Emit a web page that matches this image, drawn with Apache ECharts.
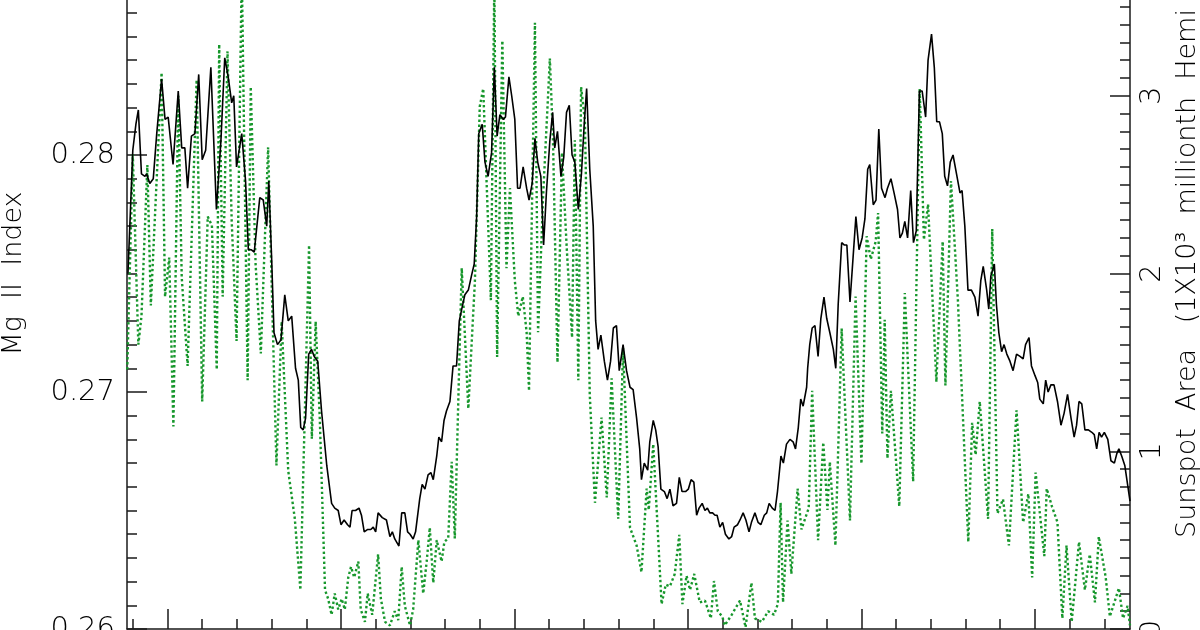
<!DOCTYPE html>
<html>
<head>
<meta charset="utf-8">
<title>Mg II Index and Sunspot Area</title>
<script src="https://cdn.jsdelivr.net/npm/echarts@6/dist/echarts.min.js"></script>
<style>
  html, body { margin: 0; padding: 0; background: #fff; }
  #chart { width: 1200px; height: 630px; }
</style>
</head>
<body>
<div id="chart"></div>
<script>
// Mg II core-to-wing index (left axis)
var mgYears = [
  1978.86,1979.00,1979.09,1979.16,1979.25,1979.35,1979.40,1979.49,1979.59,1979.69,
  1979.83,1979.93,1980.02,1980.16,1980.31,1980.41,1980.50,1980.58,1980.69,1980.79,
  1980.90,1981.00,1981.10,1981.25,1981.41,1981.54,1981.65,1981.75,1981.85,1981.91,
  1981.99,1982.14,1982.25,1982.33,1982.42,1982.50,1982.66,1982.76,1982.86,1982.92,
  1983.00,1983.07,1983.17,1983.27,1983.38,1983.48,1983.58,1983.69,1983.77,1983.84,
  1983.91,1983.98,1984.07,1984.15,1984.23,1984.33,1984.44,1984.59,1984.73,1984.82,
  1984.92,1985.00,1985.09,1985.19,1985.26,1985.32,1985.42,1985.52,1985.59,1985.67,
  1985.77,1985.86,1985.93,1986.00,1986.07,1986.19,1986.31,1986.41,1986.48,1986.55,
  1986.67,1986.75,1986.84,1986.92,1986.99,1987.08,1987.15,1987.27,1987.34,1987.42,
  1987.51,1987.59,1987.66,1987.76,1987.82,1987.90,1987.97,1988.04,1988.14,1988.23,
  1988.33,1988.41,1988.48,1988.57,1988.67,1988.76,1988.84,1988.91,1988.97,1989.07,
  1989.15,1989.24,1989.34,1989.42,1989.50,1989.58,1989.68,1989.74,1989.84,1989.92,
  1990.01,1990.09,1990.16,1990.25,1990.35,1990.42,1990.51,1990.59,1990.67,1990.76,
  1990.84,1990.92,1991.02,1991.10,1991.16,1991.24,1991.34,1991.42,1991.50,1991.58,
  1991.66,1991.74,1991.84,1991.93,1992.01,1992.08,1992.17,1992.27,1992.34,1992.41,
  1992.49,1992.59,1992.68,1992.77,1992.85,1992.94,1993.02,1993.13,1993.23,1993.33,
  1993.42,1993.52,1993.61,1993.66,1993.74,1993.84,1993.90,1994.00,1994.07,1994.14,
  1994.22,1994.32,1994.40,1994.48,1994.57,1994.67,1994.75,1994.83,1994.93,1995.01,
  1995.09,1995.17,1995.25,1995.32,1995.41,1995.49,1995.56,1995.63,1995.71,1995.78,
  1995.84,1995.92,1996.00,1996.08,1996.18,1996.26,1996.33,1996.43,1996.50,1996.59,
  1996.67,1996.76,1996.83,1996.93,1997.02,1997.10,1997.20,1997.27,1997.34,1997.43,
  1997.51,1997.58,1997.68,1997.75,1997.84,1997.94,1998.03,1998.10,1998.18,1998.25,
  1998.32,1998.42,1998.45,1998.51,1998.58,1998.66,1998.75,1998.83,1998.92,1999.00,
  1999.09,1999.19,1999.26,1999.33,1999.43,1999.51,1999.58,1999.67,1999.76,1999.84,
  1999.93,2000.02,2000.10,2000.18,2000.24,2000.34,2000.42,2000.50,2000.58,2000.68,
  2000.75,2000.85,2000.94,2001.04,2001.11,2001.18,2001.25,2001.33,2001.42,2001.50,
  2001.58,2001.67,2001.75,2001.85,2001.92,2002.02,2002.10,2002.17,2002.25,2002.33,
  2002.40,2002.48,2002.56,2002.64,2002.74,2002.84,2002.90,2002.98,2003.07,2003.17,
  2003.27,2003.36,2003.44,2003.51,2003.61,2003.67,2003.73,2003.83,2003.89,2003.96,
  2004.04,2004.11,2004.19,2004.28,2004.37,2004.47,2004.57,2004.66,2004.73,2004.83,
  2004.90,2005.00,2005.08,2005.14,2005.24,2005.31,2005.38,2005.46,2005.55,2005.65,
  2005.75,2005.84,2005.94,2006.04,2006.13,2006.20,2006.27,2006.35,2006.44,2006.54,
  2006.64,2006.71,2006.78,2006.85,2006.92,2007.00,2007.10,2007.19,2007.29,2007.36,
  2007.42,2007.50,2007.59,2007.67,2007.74
]
var mgIndex = [
  0.2750,0.2802,0.2813,0.2819,0.2792,0.2791,0.2792,0.2788,0.2790,0.2809,
  0.2832,0.2815,0.2816,0.2796,0.2827,0.2803,0.2803,0.2786,0.2808,0.2809,
  0.2834,0.2798,0.2802,0.2837,0.2777,0.2806,0.2841,0.2833,0.2822,0.2825,
  0.2795,0.2809,0.2789,0.2760,0.2760,0.2759,0.2782,0.2781,0.2770,0.2789,
  0.2757,0.2725,0.2720,0.2722,0.2741,0.2730,0.2732,0.2710,0.2705,0.2685,
  0.2684,0.2689,0.2716,0.2718,0.2715,0.2713,0.2692,0.2669,0.2653,0.2651,
  0.2650,0.2644,0.2646,0.2644,0.2643,0.2650,0.2650,0.2651,0.2648,0.2641,
  0.2642,0.2642,0.2643,0.2641,0.2649,0.2647,0.2646,0.2639,0.2641,0.2638,
  0.2635,0.2649,0.2649,0.2641,0.2640,0.2638,0.2641,0.2655,0.2661,0.2659,
  0.2665,0.2666,0.2663,0.2673,0.2681,0.2679,0.2688,0.2692,0.2696,0.2711,
  0.2711,0.2730,0.2735,0.2741,0.2743,0.2749,0.2754,0.2774,0.2809,0.2813,
  0.2797,0.2791,0.2801,0.2837,0.2808,0.2817,0.2815,0.2816,0.2833,0.2825,
  0.2815,0.2786,0.2786,0.2795,0.2786,0.2781,0.2788,0.2807,0.2797,0.2791,
  0.2762,0.2784,0.2806,0.2818,0.2803,0.2810,0.2791,0.2799,0.2818,0.2821,
  0.2800,0.2797,0.2777,0.2792,0.2813,0.2828,0.2794,0.2770,0.2730,0.2718,
  0.2724,0.2713,0.2705,0.2713,0.2727,0.2728,0.2709,0.2720,0.2709,0.2702,
  0.2701,0.2689,0.2676,0.2663,0.2670,0.2667,0.2679,0.2688,0.2684,0.2677,
  0.2659,0.2658,0.2655,0.2659,0.2652,0.2653,0.2664,0.2658,0.2658,0.2659,
  0.2663,0.2662,0.2648,0.2651,0.2653,0.2650,0.2651,0.2649,0.2649,0.2648,
  0.2648,0.2643,0.2645,0.2640,0.2638,0.2639,0.2643,0.2644,0.2646,0.2649,
  0.2646,0.2641,0.2645,0.2649,0.2645,0.2644,0.2648,0.2649,0.2653,0.2651,
  0.2650,0.2658,0.2673,0.2670,0.2678,0.2680,0.2679,0.2676,0.2685,0.2697,
  0.2694,0.2702,0.2710,0.2720,0.2727,0.2728,0.2715,0.2731,0.2740,0.2731,
  0.2725,0.2718,0.2710,0.2737,0.2763,0.2762,0.2762,0.2738,0.2757,0.2774,
  0.2760,0.2765,0.2773,0.2794,0.2796,0.2779,0.2781,0.2811,0.2786,0.2782,
  0.2786,0.2790,0.2784,0.2777,0.2765,0.2767,0.2772,0.2765,0.2785,0.2763,
  0.2768,0.2827,0.2827,0.2816,0.2840,0.2851,0.2837,0.2814,0.2814,0.2809,
  0.2791,0.2787,0.2797,0.2800,0.2792,0.2784,0.2785,0.2770,0.2743,0.2743,
  0.2740,0.2732,0.2747,0.2753,0.2743,0.2735,0.2749,0.2754,0.2737,0.2725,
  0.2717,0.2720,0.2716,0.2713,0.2709,0.2716,0.2715,0.2714,0.2720,0.2723,
  0.2711,0.2707,0.2704,0.2697,0.2695,0.2705,0.2700,0.2703,0.2703,0.2696,
  0.2686,0.2691,0.2699,0.2689,0.2681,0.2686,0.2696,0.2695,0.2684,0.2684,
  0.2683,0.2682,0.2676,0.2683,0.2681,0.2683,0.2680,0.2671,0.2670,0.2674,
  0.2676,0.2673,0.2669,0.2661,0.2654
]

// sunspot area, 10^3 millionths of a hemisphere (right axis)
var ssYears = [
  1978.84,1979.00,1979.16,1979.25,1979.42,1979.52,1979.83,1979.93,1980.05,1980.17,
  1980.31,1980.41,1980.58,1980.84,1981.00,1981.16,1981.28,1981.42,1981.49,1981.59,
  1981.73,1981.85,1981.99,1982.14,1982.31,1982.40,1982.54,1982.69,1982.90,1983.14,
  1983.29,1983.48,1983.67,
  1983.83,1984.08,1984.16,1984.27,1984.39,1984.54,1984.63,1984.73,1984.82,1984.92,
  1985.02,1985.11,1985.21,1985.29,1985.38,1985.50,1985.57,1985.69,1985.77,1985.90,
  1986.07,1986.15,1986.27,1986.41,1986.55,1986.65,1986.75,1986.84,1986.99,1987.08,
  1987.23,1987.37,1987.47,1987.56,1987.66,1987.76,1987.90,1987.98,1988.09,1988.19,
  1988.28,1988.38,1988.48,
  1988.67,1988.86,1989.00,1989.10,1989.32,1989.42,1989.50,1989.65,1989.77,1989.87,
  1990.01,1990.11,1990.24,1990.35,1990.42,1990.59,1990.68,1990.82,1991.02,1991.11,
  1991.24,1991.37,1991.51,1991.66,1991.74,1991.84,1991.92,1992.03,1992.17,1992.32,
  1992.51,1992.66,1992.80,1992.99,1993.13,1993.33,1993.52,
  1993.66,1993.81,1993.87,1994.00,1994.24,1994.36,1994.48,1994.62,1994.75,1994.84,
  1994.96,1995.06,1995.18,1995.34,1995.49,1995.66,1995.75,1995.86,1995.99,1996.06,
  1996.26,1996.50,1996.66,1996.83,1996.93,1997.13,1997.31,1997.48,1997.59,1997.67,
  1997.74,1997.87,1997.98,1998.16,1998.27,
  1998.48,1998.58,1998.75,1998.90,1999.02,1999.09,1999.25,1999.43,1999.67,1999.83,
  2000.00,2000.15,2000.27,2000.41,2000.48,2000.60,2000.67,2000.75,2000.85,2001.09,
  2001.25,2001.49,2001.68,2001.80,2001.92,2002.16,2002.34,2002.42,2002.58,2002.78,
  2003.08,2003.19,
  2003.29,2003.41,2003.65,2003.77,2003.92,2004.08,2004.25,2004.47,2004.66,2004.81,
  2004.92,2005.02,2005.27,2005.34,2005.49,2005.65,2005.79,2005.91,2006.06,2006.27,
  2006.44,2006.58,2006.73,2006.84,2007.04,2007.16,2007.42,2007.54,2007.67,2007.74
]
var ssArea = [
  1.46,2.67,1.60,1.76,2.61,1.82,3.13,1.87,2.09,1.14,
  3.00,1.98,1.48,3.09,1.28,2.32,2.27,1.46,3.29,1.87,
  3.25,2.30,1.62,3.70,1.40,3.05,2.05,1.55,2.71,0.92,
  1.73,0.89,0.62,
  0.22,2.16,1.07,1.73,1.18,0.22,0.17,0.08,0.20,0.11,
  0.17,0.11,0.29,0.35,0.29,0.38,0.11,0.04,0.20,0.08,
  0.42,0.17,0.04,0.02,0.10,0.05,0.35,0.13,0.02,0.11,
  0.50,0.20,0.38,0.57,0.26,0.50,0.38,0.49,0.51,0.94,
  0.51,1.28,2.03,
  1.24,1.96,2.94,3.04,1.85,3.65,1.53,3.31,2.03,2.48,
  1.96,1.76,1.87,1.67,1.34,3.41,1.67,2.41,3.21,2.75,
  1.50,2.68,2.13,1.64,2.75,1.40,3.05,2.86,1.32,0.71,
  1.19,0.74,1.41,0.62,1.58,0.57,0.47,
  0.32,0.79,0.67,1.04,0.14,0.25,0.24,0.31,0.53,0.14,
  0.30,0.22,0.31,0.15,0.16,0.06,0.27,0.10,0.07,0.02,
  0.08,0.16,0.01,0.26,0.06,0.04,0.10,0.08,0.14,0.71,
  0.15,0.61,0.31,0.79,0.56,
  0.68,1.34,0.50,1.05,0.67,0.94,0.47,1.69,0.61,1.87,
  0.93,2.21,2.08,2.18,2.34,1.10,1.74,0.96,1.34,0.69,
  1.89,0.83,3.04,2.19,2.39,1.39,2.18,1.37,2.52,1.85,
  0.49,1.16,
  0.98,1.28,0.62,2.25,0.65,0.73,0.47,1.23,0.60,0.76,
  0.29,0.88,0.41,0.79,0.69,0.60,0.06,0.47,0.04,0.49,
  0.22,0.42,0.15,0.52,0.29,0.07,0.23,0.06,0.13,0.02
]

// x axis ticks: every year, long ones every 5 years
var yearTicks = []
for (var y = 1979; y <= 2007; y++) yearTicks.push(y)
var majorYearTicks = [1980, 1985, 1990, 1995, 2000, 2005]

var xMin = 1978.833
var xMax = 2007.74

var fontFamily = 'DejaVu Sans'
var axisColor = '#1a1a1a'
var textColor = '#000000'

function pairs(xs, ys) {
  return xs.map(function (x, i) { return [x, ys[i]] })
}

var chart = echarts.init(document.getElementById('chart'), null, { renderer: 'canvas' })

var option = {
  animation: false,
  backgroundColor: '#ffffff',
  // top of the plot box sits above the picture, so 0.29 / 4 are cut off
  grid: {
    left: 127,
    right: 70,
    top: -82,
    bottom: 1,
    containLabel: false,
    outerBoundsMode: 'none'
  },
  xAxis: [
    {
      type: 'value',
      min: xMin,
      max: xMax,
      position: 'bottom',
      axisLine: { show: true, lineStyle: { color: axisColor, width: 1.5 } },
      axisTick: {
        show: true,
        inside: true,
        length: 20,
        customValues: majorYearTicks,
        lineStyle: { color: axisColor, width: 1.5 }
      },
      axisLabel: { show: false },
      splitLine: { show: false }
    },
    {
      type: 'value',
      min: xMin,
      max: xMax,
      position: 'bottom',
      offset: 0,
      axisLine: { show: false },
      axisTick: {
        show: true,
        inside: true,
        length: 10,
        customValues: yearTicks,
        lineStyle: { color: axisColor, width: 1.5 }
      },
      axisLabel: { show: false },
      splitLine: { show: false }
    }
  ],
  yAxis: [
    {
      type: 'value',
      position: 'left',
      min: 0.26,
      max: 0.29,
      interval: 0.01,
      name: 'Mg  II  Index',
      nameLocation: 'middle',
      nameGap: 100,
      nameTextStyle: { fontFamily: fontFamily, fontSize: 27, fontWeight: 200, color: textColor },
      axisLine: { show: true, lineStyle: { color: axisColor, width: 1.5 } },
      axisTick: { show: true, inside: true, length: 20, lineStyle: { color: axisColor, width: 1.5 } },
      minorTick: { show: true, splitNumber: 10, length: 10, lineStyle: { color: axisColor, width: 1.5 } },
      axisLabel: {
        margin: 12,
        fontFamily: fontFamily,
        fontSize: 29,
        fontWeight: 200,
        color: textColor,
        formatter: function (v) { return v.toFixed(2) }
      },
      splitLine: { show: false }
    },
    {
      type: 'value',
      position: 'right',
      min: 0,
      max: 4,
      interval: 1,
      name: 'Sunspot  Area   (1X10³  millionth  Hemi',
      nameLocation: 'middle',
      nameRotate: 90,
      nameGap: 37,
      nameTextStyle: { fontFamily: fontFamily, fontSize: 27, fontWeight: 200, color: textColor },
      axisLine: { show: true, lineStyle: { color: axisColor, width: 1.5 } },
      axisTick: { show: true, inside: true, length: 20, lineStyle: { color: axisColor, width: 1.5 } },
      minorTick: { show: true, splitNumber: 10, length: 10, lineStyle: { color: axisColor, width: 1.5 } },
      axisLabel: {
        margin: 8,
        rotate: 90,
        fontFamily: fontFamily,
        fontSize: 29,
        fontWeight: 200,
        color: textColor
      },
      splitLine: { show: false }
    }
  ],
  series: [
    {
      name: 'Sunspot Area',
      type: 'line',
      xAxisIndex: 0,
      yAxisIndex: 1,
      data: pairs(ssYears, ssArea),
      showSymbol: false,
      lineStyle: { color: '#17972c', width: 2.4, type: [2.4, 2.6] },
      z: 2
    },
    {
      name: 'Mg II Index',
      type: 'line',
      xAxisIndex: 0,
      yAxisIndex: 0,
      data: pairs(mgYears, mgIndex),
      showSymbol: false,
      lineStyle: { color: '#000000', width: 1.6 },
      z: 3
    }
  ]
}

chart.setOption(option, true)
</script>
</body>
</html>
